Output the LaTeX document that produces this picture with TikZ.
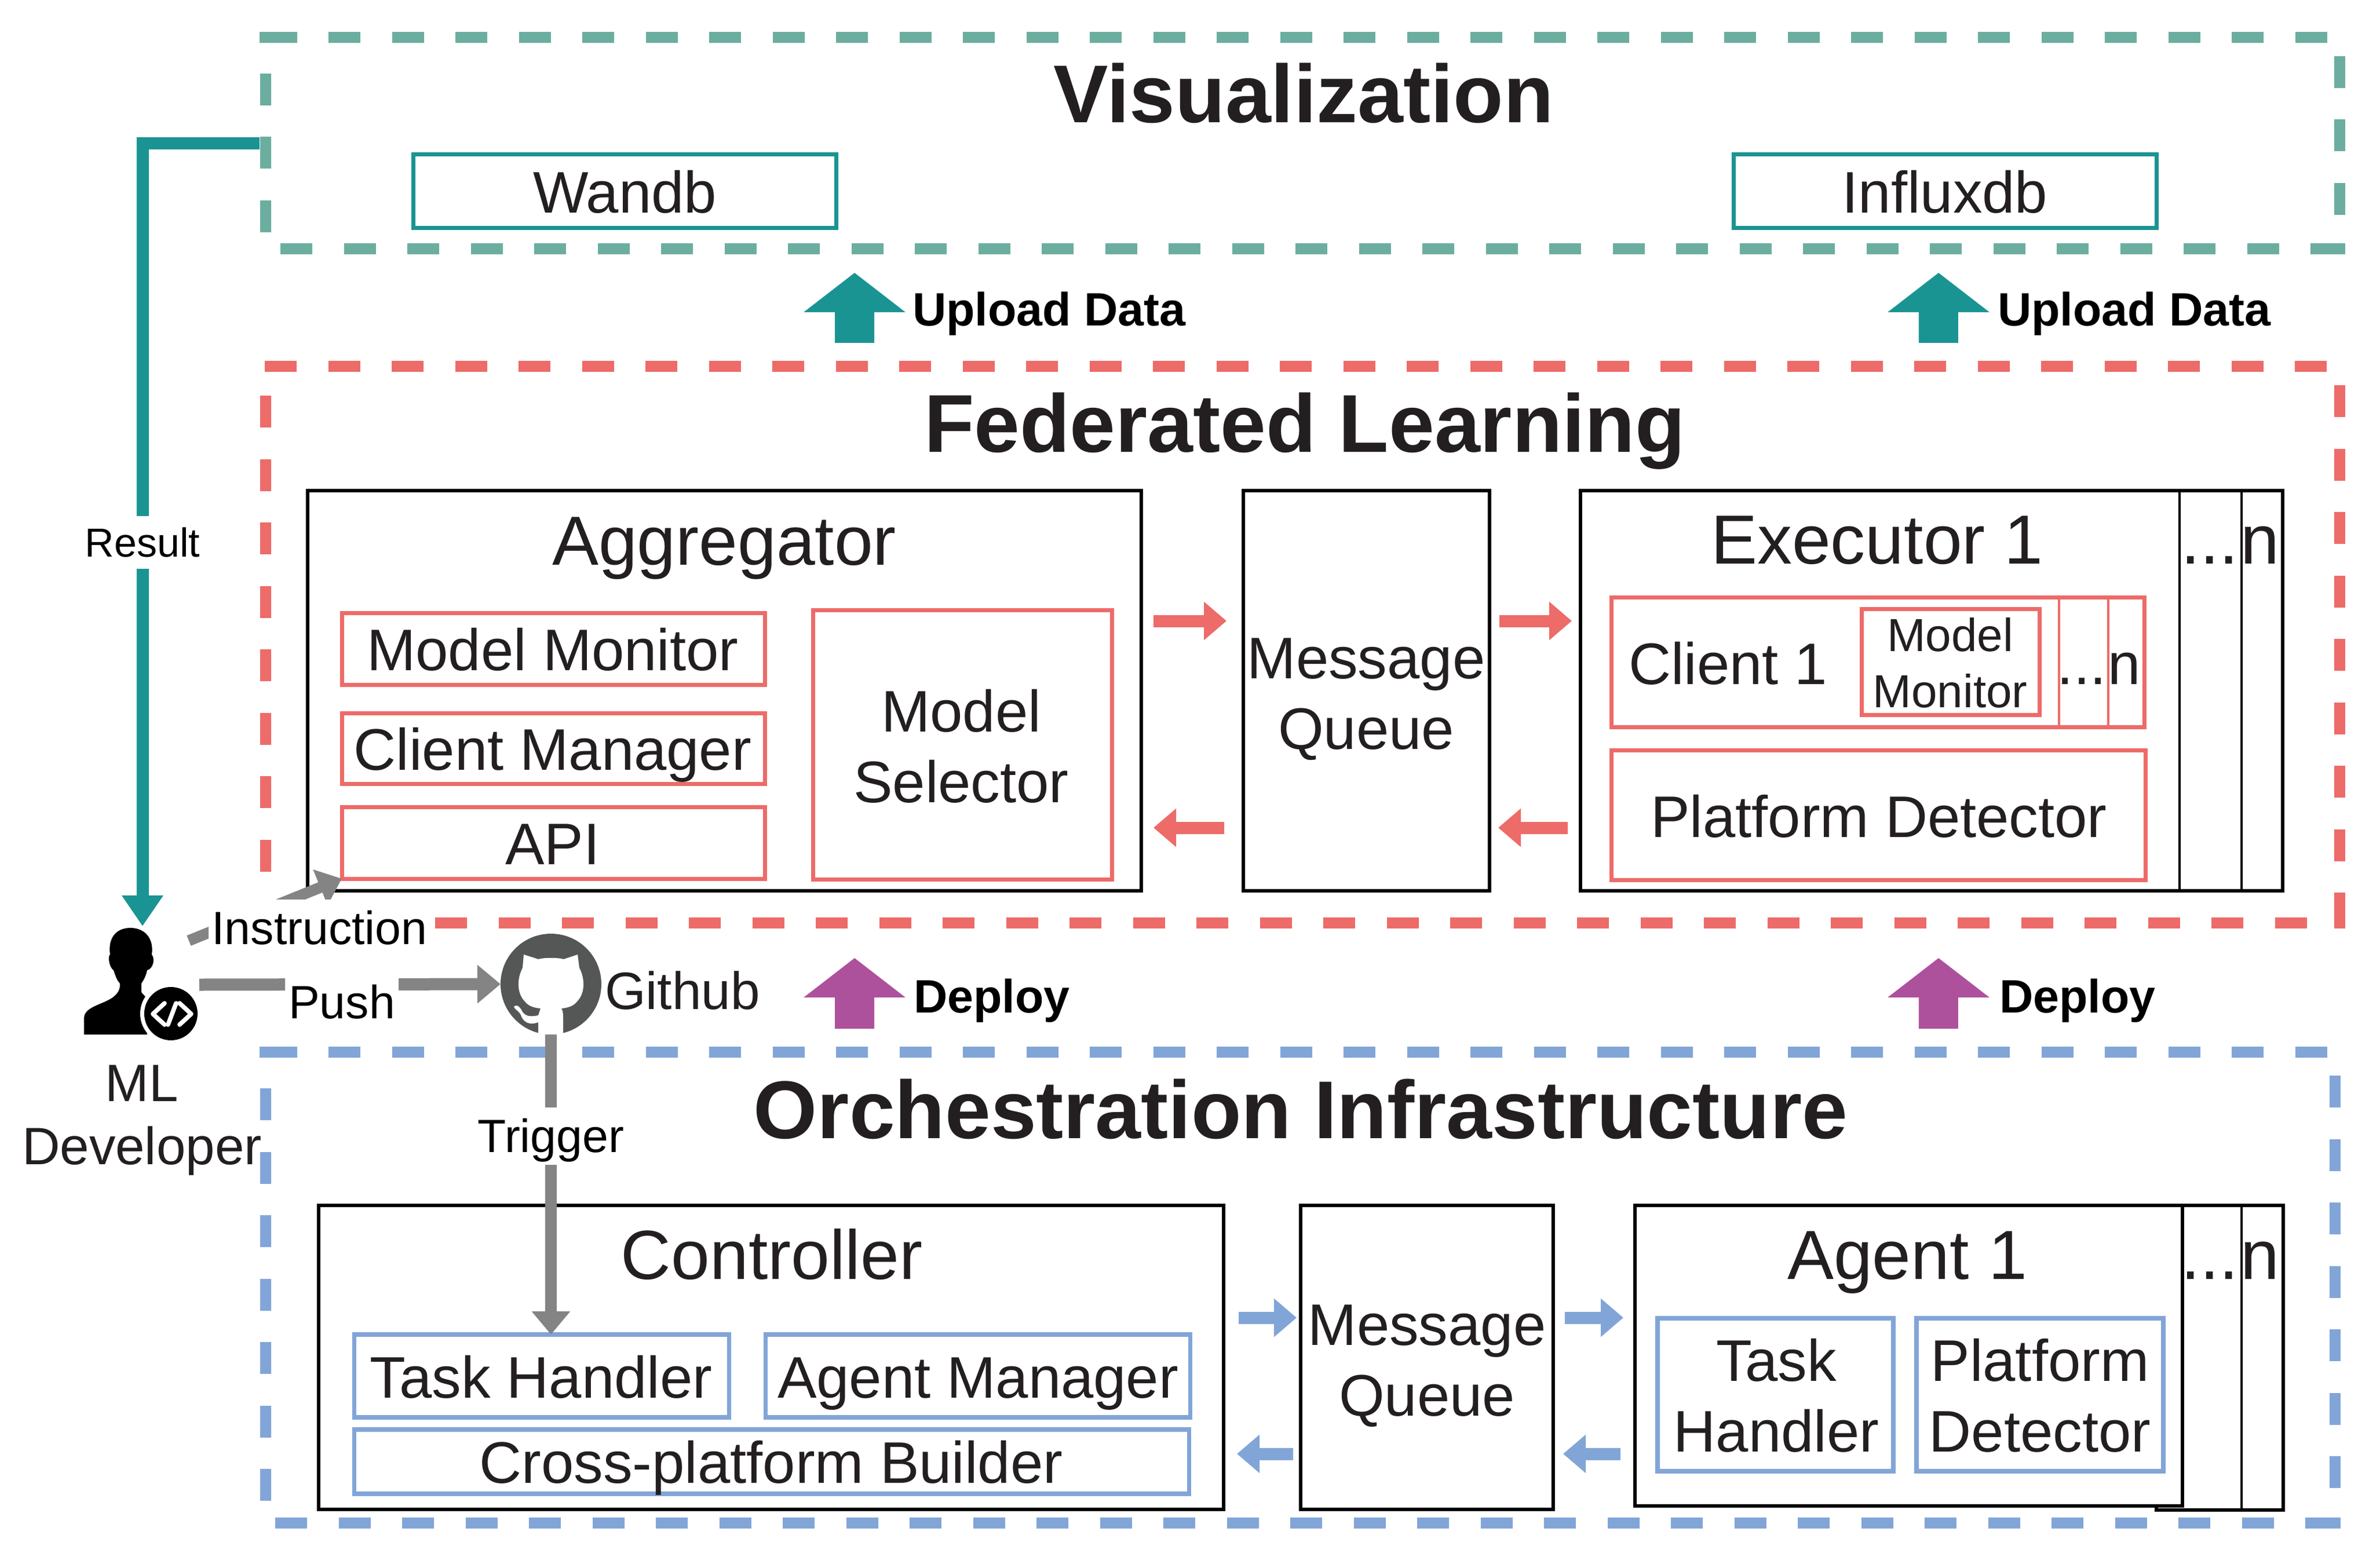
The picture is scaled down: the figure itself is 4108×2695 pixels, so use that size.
\documentclass[tikz,border=0pt]{standalone}
\usepackage{fontspec}
\setmainfont{Liberation Sans}
\usetikzlibrary{arrows.meta,calc}
\definecolor{cteal}{HTML}{1A9493}
\definecolor{cframe}{HTML}{6BAE9F}
\definecolor{cred}{HTML}{ED6B68}
\definecolor{cblue}{HTML}{82A5D8}
\definecolor{cgray}{HTML}{848484}
\definecolor{cpurple}{HTML}{AE519C}
\definecolor{cink}{HTML}{231F20}
\definecolor{cgit}{HTML}{555756}
\newcommand\fntT{\fontsize{35.4}{40}\bfseries\selectfont}
\newcommand\fntH{\fontsize{30}{35}\selectfont}
\newcommand\fntB{\fontsize{25.3}{30.3}\selectfont}
\newcommand\fntMM{\fontsize{20}{24.2}\selectfont}
\newcommand\fntL{\fontsize{22.7}{27.25}\selectfont}
\newcommand\fntS{\fontsize{20.15}{24}\selectfont}
\newcommand\fntR{\fontsize{17.5}{21}\selectfont}
\newcommand\fntU{\fontsize{20.2}{24}\bfseries\selectfont}
% box from pixel corners: name, style, x1, y1, x2, y2
\newcommand\bx[6]{%
  \pgfmathsetmacro\bxw{(#5-#3)*0.25}%
  \pgfmathsetmacro\bxh{(#6-#4)*0.25}%
  \pgfmathsetmacro\bxcx{(#3+#5)/2}%
  \pgfmathsetmacro\bxcy{(#4+#6)/2}%
  \node[#2,minimum width=\bxw pt,minimum height=\bxh pt] (#1) at (\bxcx,\bxcy) {};}
\tikzset{
  every node/.style={inner sep=0pt,outer sep=0pt},
  txt/.style={anchor=base,text=cink},
  black box/.style={draw=black,line width=1.5pt,fill=white,rectangle},
  red box/.style={draw=cred,line width=1.75pt,rectangle},
  blue box/.style={draw=cblue,line width=1.85pt,rectangle},
  teal box/.style={draw=cteal,line width=1.75pt,rectangle},
  thin black/.style={draw=black,line width=1.2pt},
  frame/.style={line width=4.75pt,dash pattern=on 13.75pt off 13.625pt},
  corner/.style={line width=4.75pt},
  flat/.style={line width=5.25pt,-{Triangle[length=9.75pt,width=16pt]}},
  big up/.style={line width=17pt,-{Triangle[length=17pt,width=43pt]}},
  gray arrow/.style={draw=cgray,line width=5.25pt,-{Triangle[length=10pt,width=16pt]}},
  cut label/.style={anchor=base,fill=white,text=black,font=\fntS,text height=19.25pt,text depth=5.25pt,inner xsep=1.5pt},
}
\begin{document}
\begin{tikzpicture}[x=0.25pt,y=-0.25pt]
\useasboundingbox (0,0) rectangle (4108,2695);

% ---------- frames
\draw[frame,cframe] (457.5,65) -- (4017,65);
\draw[corner,cframe] (448,65) -- (460,65);
\draw[frame,cframe] (484,430) -- (4043,430);
\draw[corner,cframe] (4029,430) -- (4048,430);
\draw[frame,cframe] (458,127) -- (458,402);
\draw[frame,cframe] (4038.5,97) -- (4038.5,372);

\draw[frame,cred] (457,632.5) -- (4017,632.5);
\draw[frame,cred] (751,1593.5) -- (3982,1593.5);
\draw[frame,cred] (458,683) -- (458,1505);
\draw[frame,cred] (4038.5,665) -- (4038.5,1596);
\draw[corner,cred] (4038.5,1590) -- (4038.5,1603);

\draw[frame,cblue] (457.5,1816) -- (4017,1816);
\draw[corner,cblue] (448,1816) -- (460,1816);
\draw[frame,cblue] (475,2629) -- (4034,2629);
\draw[corner,cblue] (4021,2629) -- (4040,2629);
\draw[frame,cblue] (458,1879) -- (458,2591);
\draw[frame,cblue] (4030.5,1857) -- (4030.5,2571);

% ---------- titles
\node[txt,font=\fntT] (tvis) at (2250,212) {Visualization};
\node[txt,font=\fntT] (tfed) at (2252,780) {Federated Learning};
\node[txt,font=\fntT] (torc) at (2245,1965) {Orchestration Infrastructure};

% ---------- visualization
\bx{wandb}{teal box}{713.5}{267}{1443.5}{393.5}
\bx{influx}{teal box}{2992}{267}{3722}{393.5}
\node[txt,font=\fntB] (twandb) at (wandb.center |- 0,368) {Wandb};
\node[txt,font=\fntB] (tinflux) at (influx.center |- 0,368) {Influxdb};

% ---------- federated learning
\bx{agg}{black box}{531}{847}{1970}{1538}
\node[txt,font=\fntH] (tagg) at (1250,975) {Aggregator};
\bx{mm}{red box}{590}{1058}{1320}{1182}
\bx{cm}{red box}{590}{1231}{1320}{1353}
\bx{api}{red box}{590}{1393}{1320}{1517}
\bx{ms}{red box}{1403}{1053}{1919}{1518}
\node[txt,font=\fntB] (tmm) at (954,1157) {Model Monitor};
\node[txt,font=\fntB] (tcm) at (954,1329) {Client Manager};
\node[txt,font=\fntB] (tapi) at (954,1492) {API};
\node[txt,font=\fntB,align=center] (tms) at (1659,1385) {Model\\Selector};

\bx{mq}{black box}{2146}{847}{2571}{1538}
\node[txt,font=\fntB,align=center] (tmq) at (2358,1293) {Message\\Queue};

\bx{exec}{black box}{2728}{847}{3940}{1538}
\draw[thin black] (3762,847) -- (3762,1538);
\draw[thin black] (3869,847) -- (3869,1538);
\node[txt,font=\fntH] (texec) at (3240,973) {Executor 1};
\node[txt,font=\fntH] (tedots) at (3814,973) {...};
\node[txt,font=\fntH] (ten) at (3901,973) {n};
\bx{client}{red box}{2781}{1031}{3701}{1255}
\draw[draw=cred,line width=1.2pt] (3554,1031) -- (3554,1255);
\draw[draw=cred,line width=1.2pt] (3639,1031) -- (3639,1255);
\node[txt,font=\fntB,anchor=base west] (tclient) at (2811,1181) {Client 1};
\node[txt,font=\fntB] (tcdots) at (3593,1181) {...};
\node[txt,font=\fntB] (tcn) at (3667,1181) {n};
\bx{cmm}{red box}{3213}{1051}{3520}{1234}
\node[txt,font=\fntMM,align=center] (tcmm) at (3366,1221) {Model\\Monitor};
\bx{pd}{red box}{2781}{1295}{3703}{1519}
\node[txt,font=\fntB] (tpd) at (3243,1445) {Platform Detector};

% ---------- orchestration
\bx{ctrl}{black box}{550}{2081}{2112}{2606}
\node[txt,font=\fntH] (tctrl) at (1332,2208) {Controller};
\bx{th}{blue box}{611.5}{2304}{1258.5}{2447}
\bx{am}{blue box}{1321.5}{2304}{2054.5}{2447}
\bx{cb}{blue box}{611.5}{2468}{2052.5}{2579}
\node[txt,font=\fntB] (tth) at (934,2413) {Task Handler};
\node[txt,font=\fntB] (tam) at (1688,2413) {Agent Manager};
\node[txt,font=\fntB] (tcb) at (1331,2560) {Cross-platform Builder};

\bx{mqb}{black box}{2245}{2081}{2681}{2606}
\node[txt,font=\fntB,align=center] (tmqb) at (2463,2444) {Message\\Queue};

\bx{astack}{black box}{3722}{2081}{3940.5}{2607}
\draw[thin black] (3869,2081) -- (3869,2607);
\bx{agent}{black box}{2822}{2081}{3767}{2600}
\node[txt,font=\fntH] (tagent) at (3292,2208) {Agent 1};
\node[txt,font=\fntH] (tadots) at (3814,2208) {...};
\node[txt,font=\fntH] (tan) at (3901,2208) {n};
\bx{ath}{blue box}{2861}{2276}{3268}{2540}
\bx{apd}{blue box}{3308}{2276}{3734}{2540}
\node[txt,font=\fntB,align=center] (tath) at (3066,2506) {Task\\Handler};
\node[txt,font=\fntB,align=center] (tapd) at (3521,2506) {Platform\\Detector};

% ---------- flow arrows
\coordinate (ya) at (0,1072);
\coordinate (yb) at (0,1429);
\draw[flat,cred,shorten <=5.25pt,shorten >=7.25pt] (agg.east |- ya) -- (mq.west |- ya);
\draw[flat,cred,shorten <=8.25pt,shorten >=5.25pt] (mq.west |- yb) -- (agg.east |- yb);
\draw[flat,cred,shorten <=4.25pt,shorten >=3.75pt] (mq.east |- ya) -- (exec.west |- ya);
\draw[flat,cred,shorten <=5.5pt,shorten >=3.75pt] (exec.west |- yb) -- (mq.east |- yb);

\coordinate (yc) at (0,2275);
\coordinate (yd) at (0,2510);
\draw[flat,cblue,shorten <=6.5pt,shorten >=1.75pt] (ctrl.east |- yc) -- (mqb.west |- yc);
\draw[flat,cblue,shorten <=3.25pt,shorten >=5.75pt] (mqb.west |- yd) -- (ctrl.east |- yd);
\draw[flat,cblue,shorten <=5pt,shorten >=5pt] (mqb.east |- yc) -- (agent.west |- yc);
\draw[flat,cblue,shorten <=6.25pt,shorten >=4.25pt] (agent.west |- yd) -- (mqb.east |- yd);

% ---------- block arrows
\coordinate (ua0) at (1475,592);
\coordinate (ua1) at (1475,471);
\coordinate (ub0) at (3346,592);
\coordinate (ub1) at (3346,471);
\coordinate (da0) at (1475,1776);
\coordinate (da1) at (1475,1654);
\coordinate (db0) at (3346,1776);
\coordinate (db1) at (3346,1654);
\draw[big up,cteal] (ua0) -- (ua1);
\draw[big up,cteal] (ub0) -- (ub1);
\draw[big up,cpurple] (da0) -- (da1);
\draw[big up,cpurple] (db0) -- (db1);
\node[anchor=base west,font=\fntU,text=black] (lu1) at (1575,563) {Upload Data};
\node[anchor=base west,font=\fntU,text=black] (lu2) at (3448,563) {Upload Data};
\node[anchor=base west,font=\fntU,text=black] (ld1) at (1577,1748) {Deploy};
\node[anchor=base west,font=\fntU,text=black] (ld2) at (3451,1748) {Deploy};

% ---------- ML developer icon
\coordinate (dev) at (246,1599);
\fill[black] (145,1786) -- (145,1758) .. controls (145,1730) and (207,1735) .. (207,1700)
  -- (207,1698) .. controls (200,1690) and (198,1680) .. (196,1675)
  .. controls (188,1670) and (186,1650) .. (190,1648)
  .. controls (186,1620) and (200,1602) .. (225,1602)
  .. controls (250,1602) and (266,1620) .. (262,1648)
  .. controls (268,1655) and (265,1672) .. (254,1675)
  .. controls (252,1685) and (248,1692) .. (244,1698)
  -- (244,1713) -- (252,1722) -- (254,1786) -- cycle;
\fill[white] (295,1750) circle[radius=53];
\fill[black] (295,1750) circle[radius=46];
\draw[white,line width=1.9pt,line cap=round,line join=round] (284,1732) -- (264,1750.5) -- (284,1769);
\draw[white,line width=1.9pt,line cap=round] (304,1732) -- (290,1769);
\draw[white,line width=1.9pt,line cap=round,line join=round] (310,1732) -- (330,1750.5) -- (310,1769);
\node[txt,font=\fntL,align=center] (tdev) at (245,2010) {ML\\Developer};

% ---------- github icon
\node[circle,fill=cgit,minimum size=43.5pt] (gh) at (951,1699) {};
\fill[white] (904,1648) -- (929,1656) .. controls (940,1653) and (962,1653) .. (973,1656) -- (997,1648)
  -- (1000,1671) .. controls (1010,1690) and (1010,1715) .. (996,1729)
  .. controls (990,1737) and (980,1740) .. (969,1741) .. controls (972,1745) and (972,1752) .. (972,1758)
  -- (972,1787) -- (929,1787) -- (929,1765) .. controls (915,1770) and (905,1766) .. (900,1755)
  .. controls (897,1745) and (890,1745) .. (887,1738) .. controls (893,1733) and (897,1738) .. (902,1747)
  .. controls (908,1756) and (918,1755) .. (929,1753) -- (933,1741)
  .. controls (922,1740) and (912,1737) .. (906,1729)
  .. controls (892,1715) and (892,1690) .. (902,1671) -- cycle;
\node[anchor=base west,font=\fntL,text=cink] (tgh) at (1044,1742) {Github};

% ---------- gray and teal connectors
\coordinate (devi) at (326,1624);
\coordinate (devp) at (344,1700);
\coordinate (visl) at (448,247.5);
\draw[gray arrow,line width=4.75pt] (devi) -- (api.south west);
\node[cut label] (linst) at (551.5,1630) {Instruction};
\draw[gray arrow] (devp) -- (gh.west);
\node[cut label] (lpush) at (590,1758) {Push};
\draw[gray arrow,line width=5pt] (gh.south) -- (gh.south |- th.north);
\node[cut label,text depth=5.5pt] (ltrig) at (951,1989) {Trigger};
\draw[cteal,line width=5.25pt,line join=miter,-{Triangle[length=13.25pt,width=17pt]}] (visl) -- (246,247.5) -- (dev);
\node[cut label,font=\fntR,text height=17.5pt] (lres) at (246,961) {Result};
\end{tikzpicture}
\end{document}
